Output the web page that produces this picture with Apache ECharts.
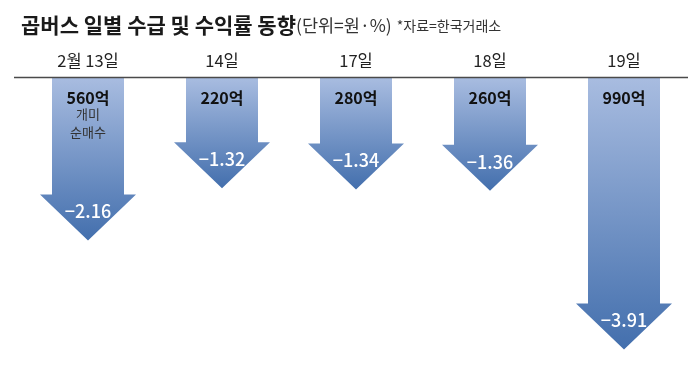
<!DOCTYPE html>
<html>
<head>
<meta charset="utf-8">
<script src="https://cdn.jsdelivr.net/npm/echarts@6/dist/echarts.min.js"></script>
<style>
  html, body { margin: 0; padding: 0; background: #fff; }
  #chart { width: 700px; height: 366px; }
</style>
</head>
<body>
<div id="chart"></div>
<script>
// ---- data ----
const dates = ['2월 13일', '14일', '17일', '18일', '19일'];
const returns = [-2.16, -1.32, -1.34, -1.36, -3.91];          // 수익률 (%)
const amounts = [560, 220, 280, 260, 990];                    // 개인 순매수 (억원)
const notes = ['개미\n순매수', '', '', '', ''];

const FONT = '"Noto Sans CJK KR", "Noto Sans", sans-serif';

const chart = echarts.init(document.getElementById('chart'), null, { renderer: 'canvas' });

const seriesData = dates.map((d, i) => [i, returns[i], amounts[i]]);

function renderItem(params, api) {
  const i = params.dataIndex;
  const x = api.coord([api.value(0), 0])[0];
  const tipY = api.coord([api.value(0), api.value(1)])[1];
  const topY = params.coordSys.y;
  const shaftW = 72, headW = 96, headH = 46;
  const headTop = tipY - headH;
  const pts = [
    [x - shaftW / 2, topY], [x + shaftW / 2, topY], [x + shaftW / 2, headTop],
    [x + headW / 2, headTop], [x, tipY], [x - headW / 2, headTop], [x - shaftW / 2, headTop]
  ];
  const children = [
    {
      type: 'polygon',
      shape: { points: pts },
      style: {
        fill: new echarts.graphic.LinearGradient(0, 0, 0, 1, [
          { offset: 0, color: '#a8bce0' },
          { offset: 1, color: '#436fad' }
        ])
      }
    },
    {
      type: 'text',
      style: {
        x: x, y: 98, text: api.value(2) + '억',
        fill: '#111', font: 'bold 16px ' + FONT,
        align: 'center', verticalAlign: 'middle'
      }
    },
    {
      type: 'text',
      style: {
        x: x, y: headTop + 17, text: '\u2212' + Math.abs(api.value(1)).toFixed(2),
        fill: '#fff', font: '500 18px ' + FONT,
        align: 'center', verticalAlign: 'middle'
      }
    }
  ];
  if (notes[i]) {
    children.push({
      type: 'text',
      style: {
        x: x, y: 123, text: notes[i],
        fill: '#333', font: '13px ' + FONT, lineHeight: 18,
        align: 'center', verticalAlign: 'middle'
      }
    });
  }
  return { type: 'group', children: children };
}

chart.setOption({
  animation: false,
  backgroundColor: '#fff',
  title: {
    left: 16,
    top: 10,
    text: '{a|곱버스 일별 수급 및 수익률 동향}{b|(단위=원·%)} {c|*자료=한국거래소}',
    textStyle: {
      rich: {
        a: { fontFamily: FONT, fontSize: 21, fontWeight: 'bold', color: '#1a1a1a' },
        b: { fontFamily: FONT, fontSize: 17.5, fontWeight: 'normal', color: '#333' },
        c: { fontFamily: FONT, fontSize: 14, fontWeight: 'normal', color: '#333' }
      }
    }
  },
  grid: { left: 21, right: 9, top: 78, height: 283.3, containLabel: false },
  xAxis: {
    type: 'category',
    position: 'top',
    data: dates,
    axisLine: { show: false },
    axisTick: { show: false },
    splitLine: { show: false },
    axisLabel: { color: '#222', fontFamily: FONT, fontSize: 16.5, margin: 9 }
  },
  yAxis: {
    type: 'value',
    min: -4.1,
    max: 0.45,
    show: false
  },
  graphic: [{
    type: 'line',
    z: 100,
    shape: { x1: 14, y1: 77.5, x2: 688, y2: 77.5 },
    style: { stroke: '#4a4a4a', lineWidth: 1.6 }
  }],
  series: [{
    type: 'custom',
    renderItem: renderItem,
    data: seriesData,
    encode: { x: 0, y: 1 }
  }]
});
</script>
</body>
</html>
